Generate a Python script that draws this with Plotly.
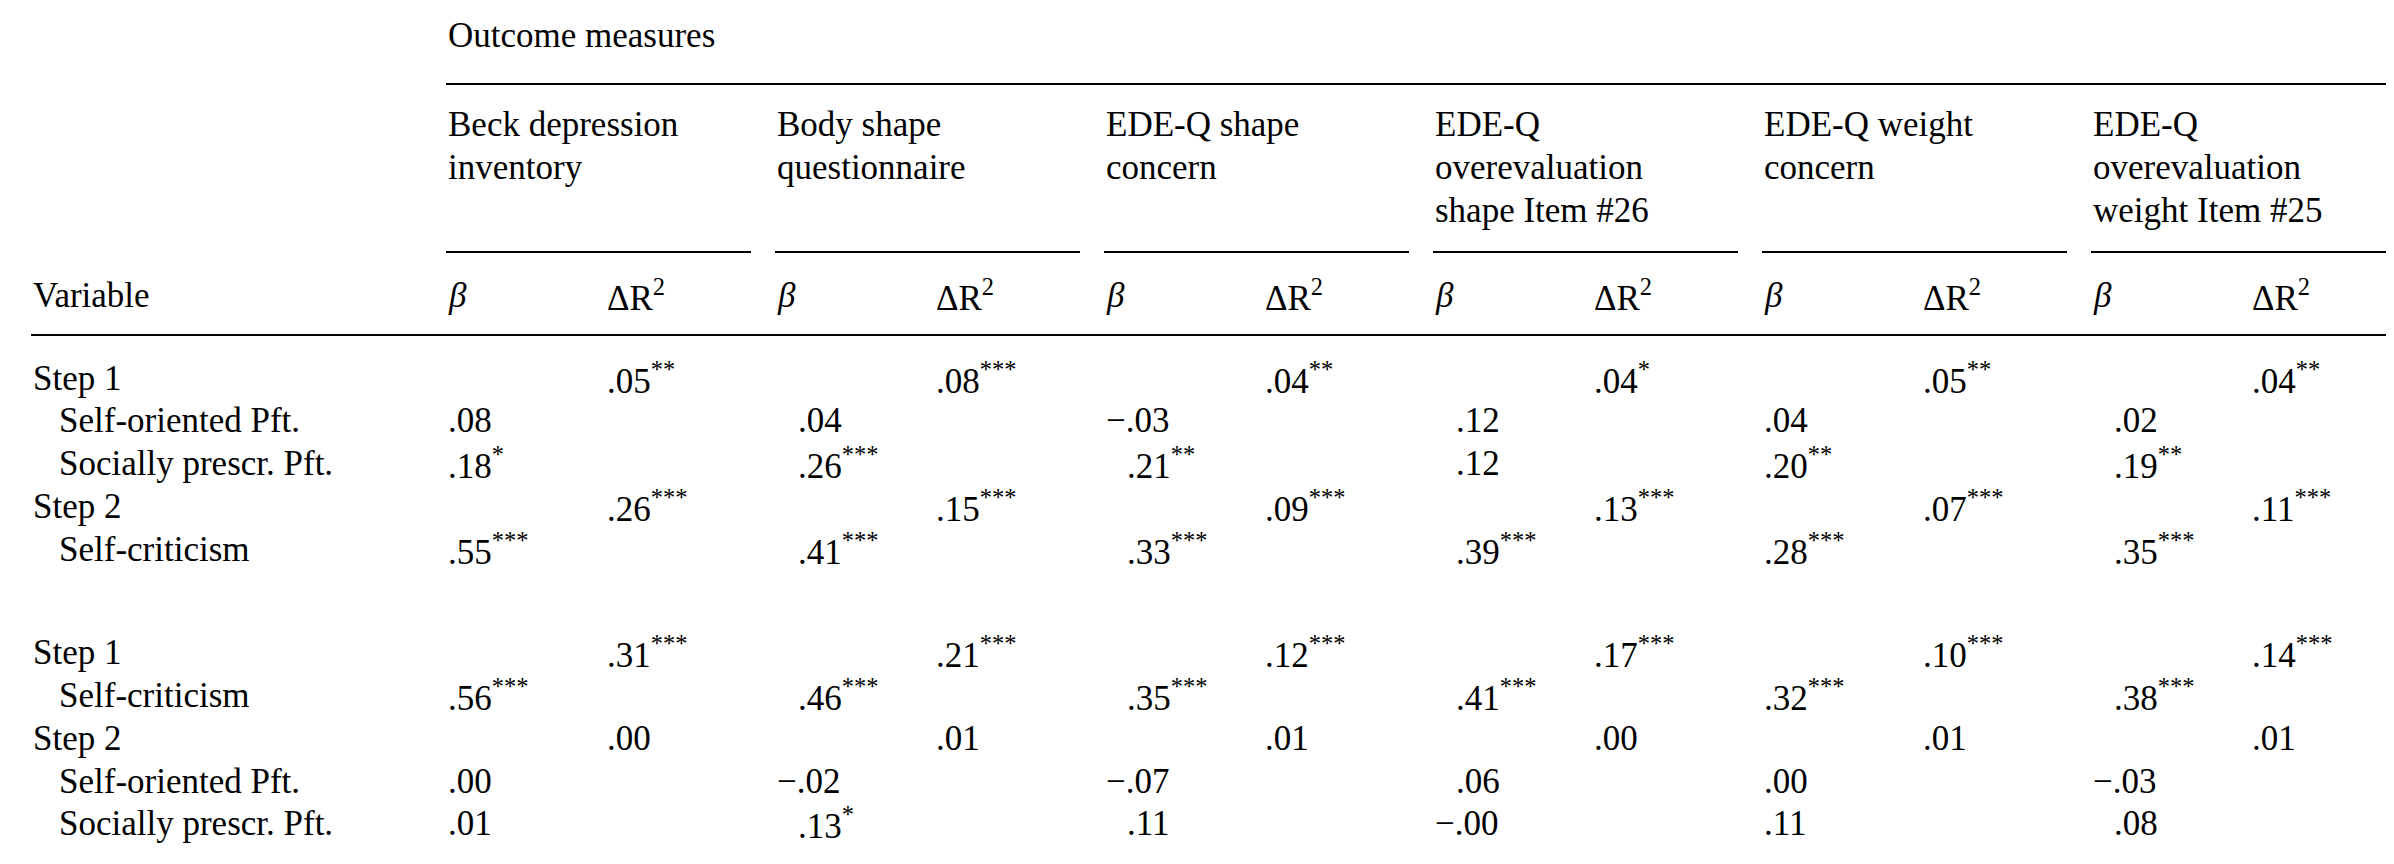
import plotly.graph_objects as go

# table content
row_labels = ["Step 1", "Self-oriented Pft.", "Socially prescr. Pft.", "Step 2", "Self-criticism",
              "Step 1", "Self-criticism", "Step 2", "Self-oriented Pft.", "Socially prescr. Pft."]
row_indent = [0, 1, 1, 0, 1, 0, 1, 0, 1, 1]

outcomes = [["Beck depression", "inventory"],
            ["Body shape", "questionnaire"],
            ["EDE-Q shape", "concern"],
            ["EDE-Q", "overevaluation", "shape Item #26"],
            ["EDE-Q weight", "concern"],
            ["EDE-Q", "overevaluation", "weight Item #25"]]

beta_bdi = ["", ".08", ".18*", "", ".55***", "", ".56***", "", ".00", ".01"]
beta_bsq = ["", ".04", ".26***", "", ".41***", "", ".46***", "", "−.02", ".13*"]
beta_shape = ["", "−.03", ".21**", "", ".33***", "", ".35***", "", "−.07", ".11"]
beta_ov_shape = ["", ".12", ".12", "", ".39***", "", ".41***", "", ".06", "−.00"]
beta_weight = ["", ".04", ".20**", "", ".28***", "", ".32***", "", ".00", ".11"]
beta_ov_weight = ["", ".02", ".19**", "", ".35***", "", ".38***", "", "−.03", ".08"]

dr2_bdi = [".05**", "", "", ".26***", "", ".31***", "", ".00", "", ""]
dr2_bsq = [".08***", "", "", ".15***", "", ".21***", "", ".01", "", ""]
dr2_shape = [".04**", "", "", ".09***", "", ".12***", "", ".01", "", ""]
dr2_ov_shape = [".04*", "", "", ".13***", "", ".17***", "", ".00", "", ""]
dr2_weight = [".05**", "", "", ".07***", "", ".10***", "", ".01", "", ""]
dr2_ov_weight = [".04**", "", "", ".11***", "", ".14***", "", ".01", "", ""]

betas = [beta_bdi, beta_bsq, beta_shape, beta_ov_shape, beta_weight, beta_ov_weight]
dr2s = [dr2_bdi, dr2_bsq, dr2_shape, dr2_ov_shape, dr2_weight, dr2_ov_weight]

W, H = 2394, 864
FONT = dict(family="Liberation Serif, Times New Roman, serif", size=35, color="black")
row_y = [370, 412, 455, 498, 541, 644, 687, 730, 773, 815]
group_x0, group_dx, dr2_dx, minus_w = 438, 329, 159, 21


def fmt(v):
    num = v.rstrip("*")
    stars = v[len(num):]
    return num + (f"<sup>{stars}</sup>" if stars else "")


fig = go.Figure()
ann = []


def text(x, y, s, anchor="left"):
    ann.append(dict(x=x, y=y, text=s, showarrow=False, xanchor=anchor, yanchor="middle",
                    font=FONT, xref="x", yref="y"))


text(438, 27, "Outcome measures")
text(23, 287, "Variable")
for g, title in enumerate(outcomes):
    x0 = group_x0 + g * group_dx
    for i, line in enumerate(title):
        text(x0, 116 + 43 * i, line)
    text(x0, 287, "<i>β</i>")
    text(x0 + dr2_dx, 287, "ΔR<sup>2</sup>")
    has_neg = any(v.startswith("−") for v in betas[g])
    for r, v in enumerate(betas[g]):
        if v:
            off = minus_w if has_neg and not v.startswith("−") else 0
            text(x0 + off, row_y[r], fmt(v))
    for r, v in enumerate(dr2s[g]):
        if v:
            text(x0 + dr2_dx, row_y[r], fmt(v))
    x1 = x0 + 305 if g < len(outcomes) - 1 else W
    fig.add_shape(type="line", x0=x0, x1=x1, y0=244, y1=244, line=dict(color="black", width=2))

for r, lab in enumerate(row_labels):
    text(23 + 26 * row_indent[r], row_y[r], lab)

fig.add_shape(type="line", x0=438, x1=W, y0=76, y1=76, line=dict(color="black", width=2))
fig.add_shape(type="line", x0=23, x1=W, y0=327, y1=327, line=dict(color="black", width=2))

fig.update_layout(
    width=W, height=H, margin=dict(l=0, r=0, t=0, b=0),
    paper_bgcolor="white", plot_bgcolor="white", annotations=ann,
    xaxis=dict(range=[0, W], visible=False, fixedrange=True),
    yaxis=dict(range=[H, 0], visible=False, fixedrange=True),
    showlegend=False,
)
fig.write_html("out.html")
